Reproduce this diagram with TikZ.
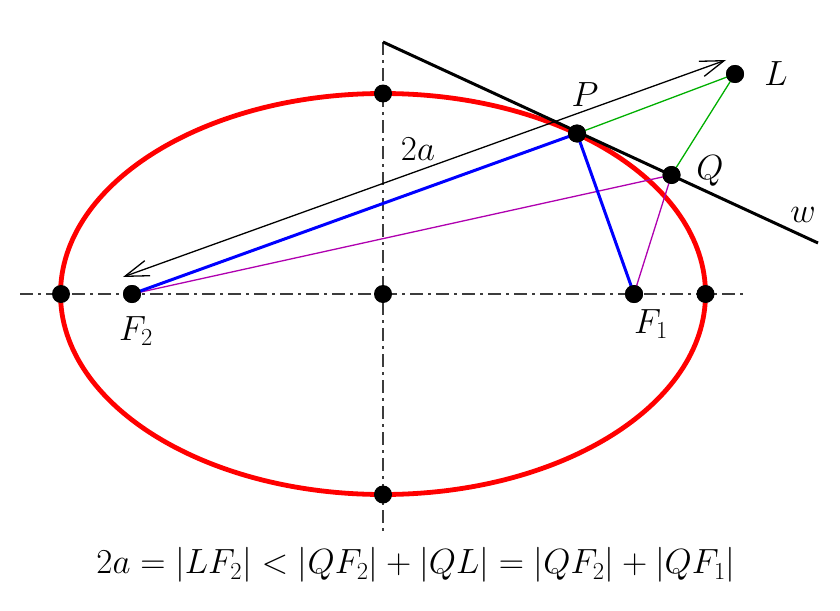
\RequirePackage{fix-cm}
\documentclass[tikz,border=0pt]{standalone}
\usetikzlibrary{arrows.meta}
\definecolor{axisgray}{RGB}{60,60,60}
\definecolor{lgreen}{RGB}{0,175,0}
\definecolor{lpurple}{RGB}{175,0,175}
\tikzset{
  dot/.style={circle,fill=black,inner sep=0pt,minimum size=18pt},
  lab/.style={inner sep=0pt,font=\fontsize{35}{42}\selectfont},
  axisline/.style={axisgray,line width=1.3pt,dash pattern=on 13pt off 5pt on 3pt off 5pt},
  thinline/.style={line width=1.3pt},
  thickline/.style={line width=3pt}
}
\begin{document}
\begin{tikzpicture}[x=1pt,y=-1pt]
\useasboundingbox (0,0) rectangle (840,610);
% axes
\coordinate (hx1) at (20,294);
\coordinate (hx2) at (745,294);
\coordinate (vy1) at (383,42);
\coordinate (vy2) at (383,533);
\draw[axisline] (hx1) -- (hx2);
\draw[axisline] (vy1) -- (vy2);
% ellipse
\draw[red,line width=4.8pt] (383,294) ellipse [x radius=322.5pt, y radius=200.5pt];
% points
\node[dot] (C) at (383,294) {};
\node[dot] (V1) at (61,294) {};
\node[dot] (V2) at (705.5,294) {};
\node[dot] (V3) at (383,93.5) {};
\node[dot] (V4) at (383,494.5) {};
\node[dot] (F2) at (132,294) {};
\node[dot] (F1) at (634,294) {};
\node[dot] (P) at (577,133.5) {};
\node[dot] (Q) at (671.5,175) {};
\node[dot] (L) at (735,74) {};
% tangent
\coordinate (t1) at (383,42);
\coordinate (t2) at (818,243);
\draw[thickline] (t1) -- (t2);
% lines
\draw[lpurple,thinline] (F2.center) -- (Q.center) -- (F1.center);
\draw[lgreen,thinline] (P.center) -- (L.center) -- (Q.center);
\draw[blue,thickline] (F2.center) -- (P.center) -- (F1.center);
% redraw dots on top
\foreach \n in {F2,F1,P,Q,L} \fill (\n) circle (9pt);
% 2a arrow
\coordinate (a1) at (123,277);
\coordinate (a2) at (726,60);
\draw[thinline,{Straight Barb[length=24pt,width=16pt]}-{Straight Barb[length=24pt,width=16pt]}] (a1) -- (a2);
% labels
\node[lab] (lP) at (585,95) {$P$};
\node[lab] (lL) at (776,74) {$L$};
\node[lab] (lQ) at (710,171) {$Q$};
\node[lab] (lw) at (803,215) {$w$};
\node[lab] (lF2) at (136,331) {$F_2$};
\node[lab] (lF1) at (651,324) {$F_1$};
\node[lab] (l2a) at (418,149) {$2a$};
\node[lab] (eq) at (416,565) {$2a=|LF_2|<|QF_2|+|QL|=|QF_2|+|QF_1|$};
\end{tikzpicture}
\end{document}
